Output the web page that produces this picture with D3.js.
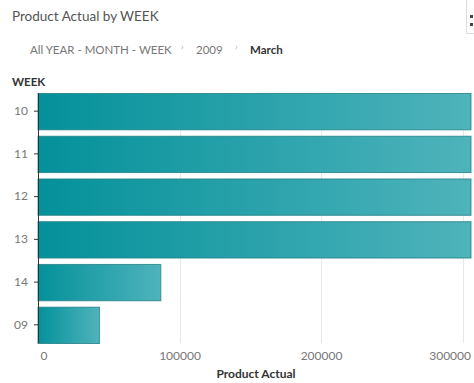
<!DOCTYPE html>
<html><head><meta charset="utf-8">
<script src="https://cdn.jsdelivr.net/npm/d3@7"></script>
<style>
body{margin:0;background:#fff;}
svg{display:block;font-family:Lato,"Open Sans",sans-serif;}
</style></head>
<body>
<svg id="c" width="474" height="383"></svg>
<script>
const weeks = ["10","11","12","13","14","09"];
const productActual = [306000, 306000, 306000, 306000, 86800, 43400];
const xTicks = [0, 100000, 200000, 300000];
const crumbs = ["All YEAR - MONTH - WEEK", "2009", "March"];

const svg = d3.select("#c");
const m = {l:38, t:93};
const x = d3.scaleLinear().domain([0, 306000]).range([m.l, 471]);
const y = d3.scaleBand().domain(weeks).range([m.t, 343]).paddingInner(0.15).paddingOuter(0.0);

const defs = svg.append("defs");
const g = defs.append("linearGradient").attr("id","bg").attr("x1","0").attr("x2","1").attr("y1","0").attr("y2","0");
g.append("stop").attr("offset","0").attr("stop-color","#04919a");
g.append("stop").attr("offset","1").attr("stop-color","#4fb3bb");

// title
svg.append("text").attr("x",12).attr("y",21).attr("font-size",13.5).attr("fill","#555").text("Product Actual by WEEK");
// menu box
svg.append("path").attr("d","M466.5,0 V33.5 H474").attr("fill","none").attr("stroke","#ddd");
svg.append("rect").attr("x",470).attr("y",15).attr("width",3).attr("height",3).attr("fill","#444");
svg.append("rect").attr("x",470).attr("y",23).attr("width",3).attr("height",3).attr("fill","#444");

// breadcrumb
const bx = [30, 196, 250];
crumbs.forEach((c,i)=>{
  svg.append("text").attr("x",bx[i]).attr("y",54).attr("font-size",11.5)
    .attr("fill", i===2?"#333":"#777").attr("font-weight", i===2?"bold":"normal").text(c);
});
[181, 235].forEach(cx=>svg.append("text").attr("x",cx).attr("y",50).attr("font-size",9).attr("fill","#aaa").text("›"));

// y axis title
svg.append("text").attr("x",12).attr("y",86).attr("font-size",11.5).attr("font-weight","bold").attr("fill","#333").text("WEEK");

// grid
svg.append("g").selectAll("line").data(xTicks.slice(1)).join("line")
  .attr("x1",d=>Math.round(x(d))+0.5).attr("x2",d=>Math.round(x(d))+0.5)
  .attr("y1",m.t).attr("y2",343).attr("stroke","#e8e8e8");

// bars
svg.append("g").selectAll("rect").data(weeks).join("rect")
  .attr("x",x(0)).attr("y",(d)=>y(d)+0.5)
  .attr("width",(d,i)=>x(productActual[i])-x(0)).attr("height",y.bandwidth())
  .attr("fill","url(#bg)").attr("stroke","#1f7f86").attr("stroke-opacity",0.8).attr("stroke-width",1);

// y axis
const ya = svg.append("g").attr("transform",`translate(${m.l},0)`).call(d3.axisLeft(y).tickSize(4).tickPadding(6));
ya.select(".domain").attr("stroke","#333").attr("d",`M0.5,${m.t}V343`);
ya.selectAll(".tick line").attr("stroke","#333");
ya.selectAll("text").attr("font-size",12).attr("fill","#777").attr("font-family","Lato,sans-serif");

// x axis
const xa = svg.append("g").attr("transform",`translate(0,343)`).call(d3.axisBottom(x).tickValues(xTicks).tickFormat(d3.format("d")).tickSize(0).tickPadding(8));
xa.select(".domain").remove();
xa.selectAll("text").attr("font-size",12).attr("fill","#777").attr("font-family","Lato,sans-serif");
xa.selectAll(".tick").filter(d=>d===0).select("text").attr("text-anchor","start").attr("dx",2);
xa.selectAll(".tick").filter(d=>d===300000).select("text").attr("text-anchor","end").attr("dx",8);

svg.append("text").attr("x",256).attr("y",378).attr("text-anchor","middle").attr("font-size",12).attr("font-weight","bold").attr("fill","#333").text("Product Actual");
</script>
</body></html>
